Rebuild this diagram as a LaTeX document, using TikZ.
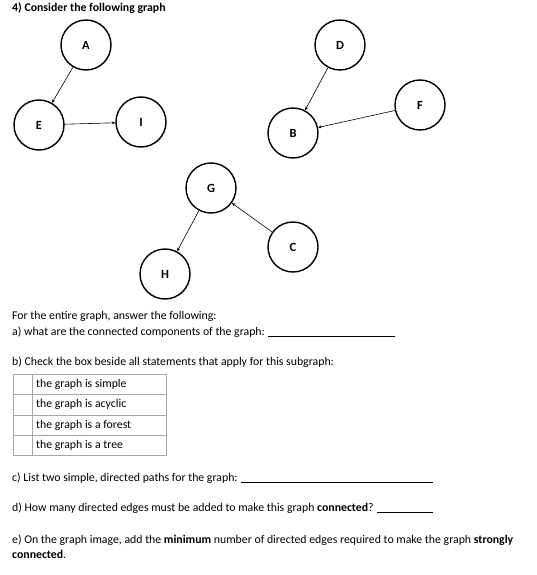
\documentclass[tikz,border=0pt]{standalone}
\usepackage{fontspec}
\setmainfont{Carlito}
\usetikzlibrary{arrows.meta}

\begin{document}
\begin{tikzpicture}[x=1pt,y=-1pt,
    vertex/.style={circle,draw,line width=1.4pt,minimum size=50pt,inner sep=0pt,
      font=\fontsize{12.5}{14}\selectfont\bfseries},
    edge/.style={line width=0.6pt,-{Stealth[length=3.5pt,width=3pt]}},
    txt/.style={anchor=base west,inner sep=0pt,font=\fontsize{11.8}{14}\selectfont},
    answer/.style={line width=0.7pt},
    box/.style={draw=gray!70,line width=0.8pt}]
  \useasboundingbox (0,0) rectangle (537,575);
  \node[txt,font=\fontsize{11.8}{14}\selectfont\bfseries] (title) at (12,11.5) {4) Consider the following graph};
  % vertices
  \node[vertex] (A) at (86,45) {A};
  \node[vertex] (E) at (39,125) {E};
  \node[vertex] (I) at (141,122) {I};
  \node[vertex] (D) at (340,45) {D};
  \node[vertex] (F) at (420,105) {F};
  \node[vertex] (B) at (293,133) {B};
  \node[vertex] (G) at (211,188) {G};
  \node[vertex] (C) at (293,247) {C};
  \node[vertex] (H) at (165,274) {H};
  % edges
  \draw[edge] (A) -- (E);
  \draw[edge] (E) -- (I);
  \draw[edge] (D) -- (B);
  \draw[edge] (F) -- (B);
  \draw[edge] (G) -- (H);
  \draw[edge] (C) -- (G);
  % questions
  \node[txt] (intro) at (12,319) {For the entire graph, answer the following:};
  \node[txt] (qa) at (12,335) {a) what are the connected components of the graph:};
  \coordinate (qa-end) at (395,336);
  \draw[answer] (qa.base east) ++(3,1) -- (qa-end);
  \node[txt] (qb) at (12,365.5) {b) Check the box beside all statements that apply for this subgraph:};
  \draw[box] (13,374) rectangle (166,455.5);
  \foreach \y in {394.5,415,435}
    \draw[box] (13,\y) -- (166,\y);
  \draw[box] (32,374) -- (32,455.5);
  \node[txt] (s1) at (36,387) {the graph is simple};
  \node[txt] (s2) at (36,407.5) {the graph is acyclic};
  \node[txt] (s3) at (36,428) {the graph is a forest};
  \node[txt] (s4) at (36,448) {the graph is a tree};
  \node[txt] (qc) at (12,481) {c) List two simple, directed paths for the graph:};
  \coordinate (qc-end) at (433,482);
  \draw[answer] (qc.base east) ++(3,1) -- (qc-end);
  \node[txt] (qd) at (12,511) {d) How many directed edges must be added to make this graph \textbf{connected}?};
  \coordinate (qd-end) at (433,512);
  \draw[answer] (qd.base east) ++(3,1) -- (qd-end);
  \node[txt] (qe) at (12,543) {e) On the graph image, add the \textbf{minimum} number of directed edges required to make the graph \textbf{strongly}};
  \node[txt] (qe2) at (12,558) {\textbf{connected}.};
\end{tikzpicture}
\end{document}
